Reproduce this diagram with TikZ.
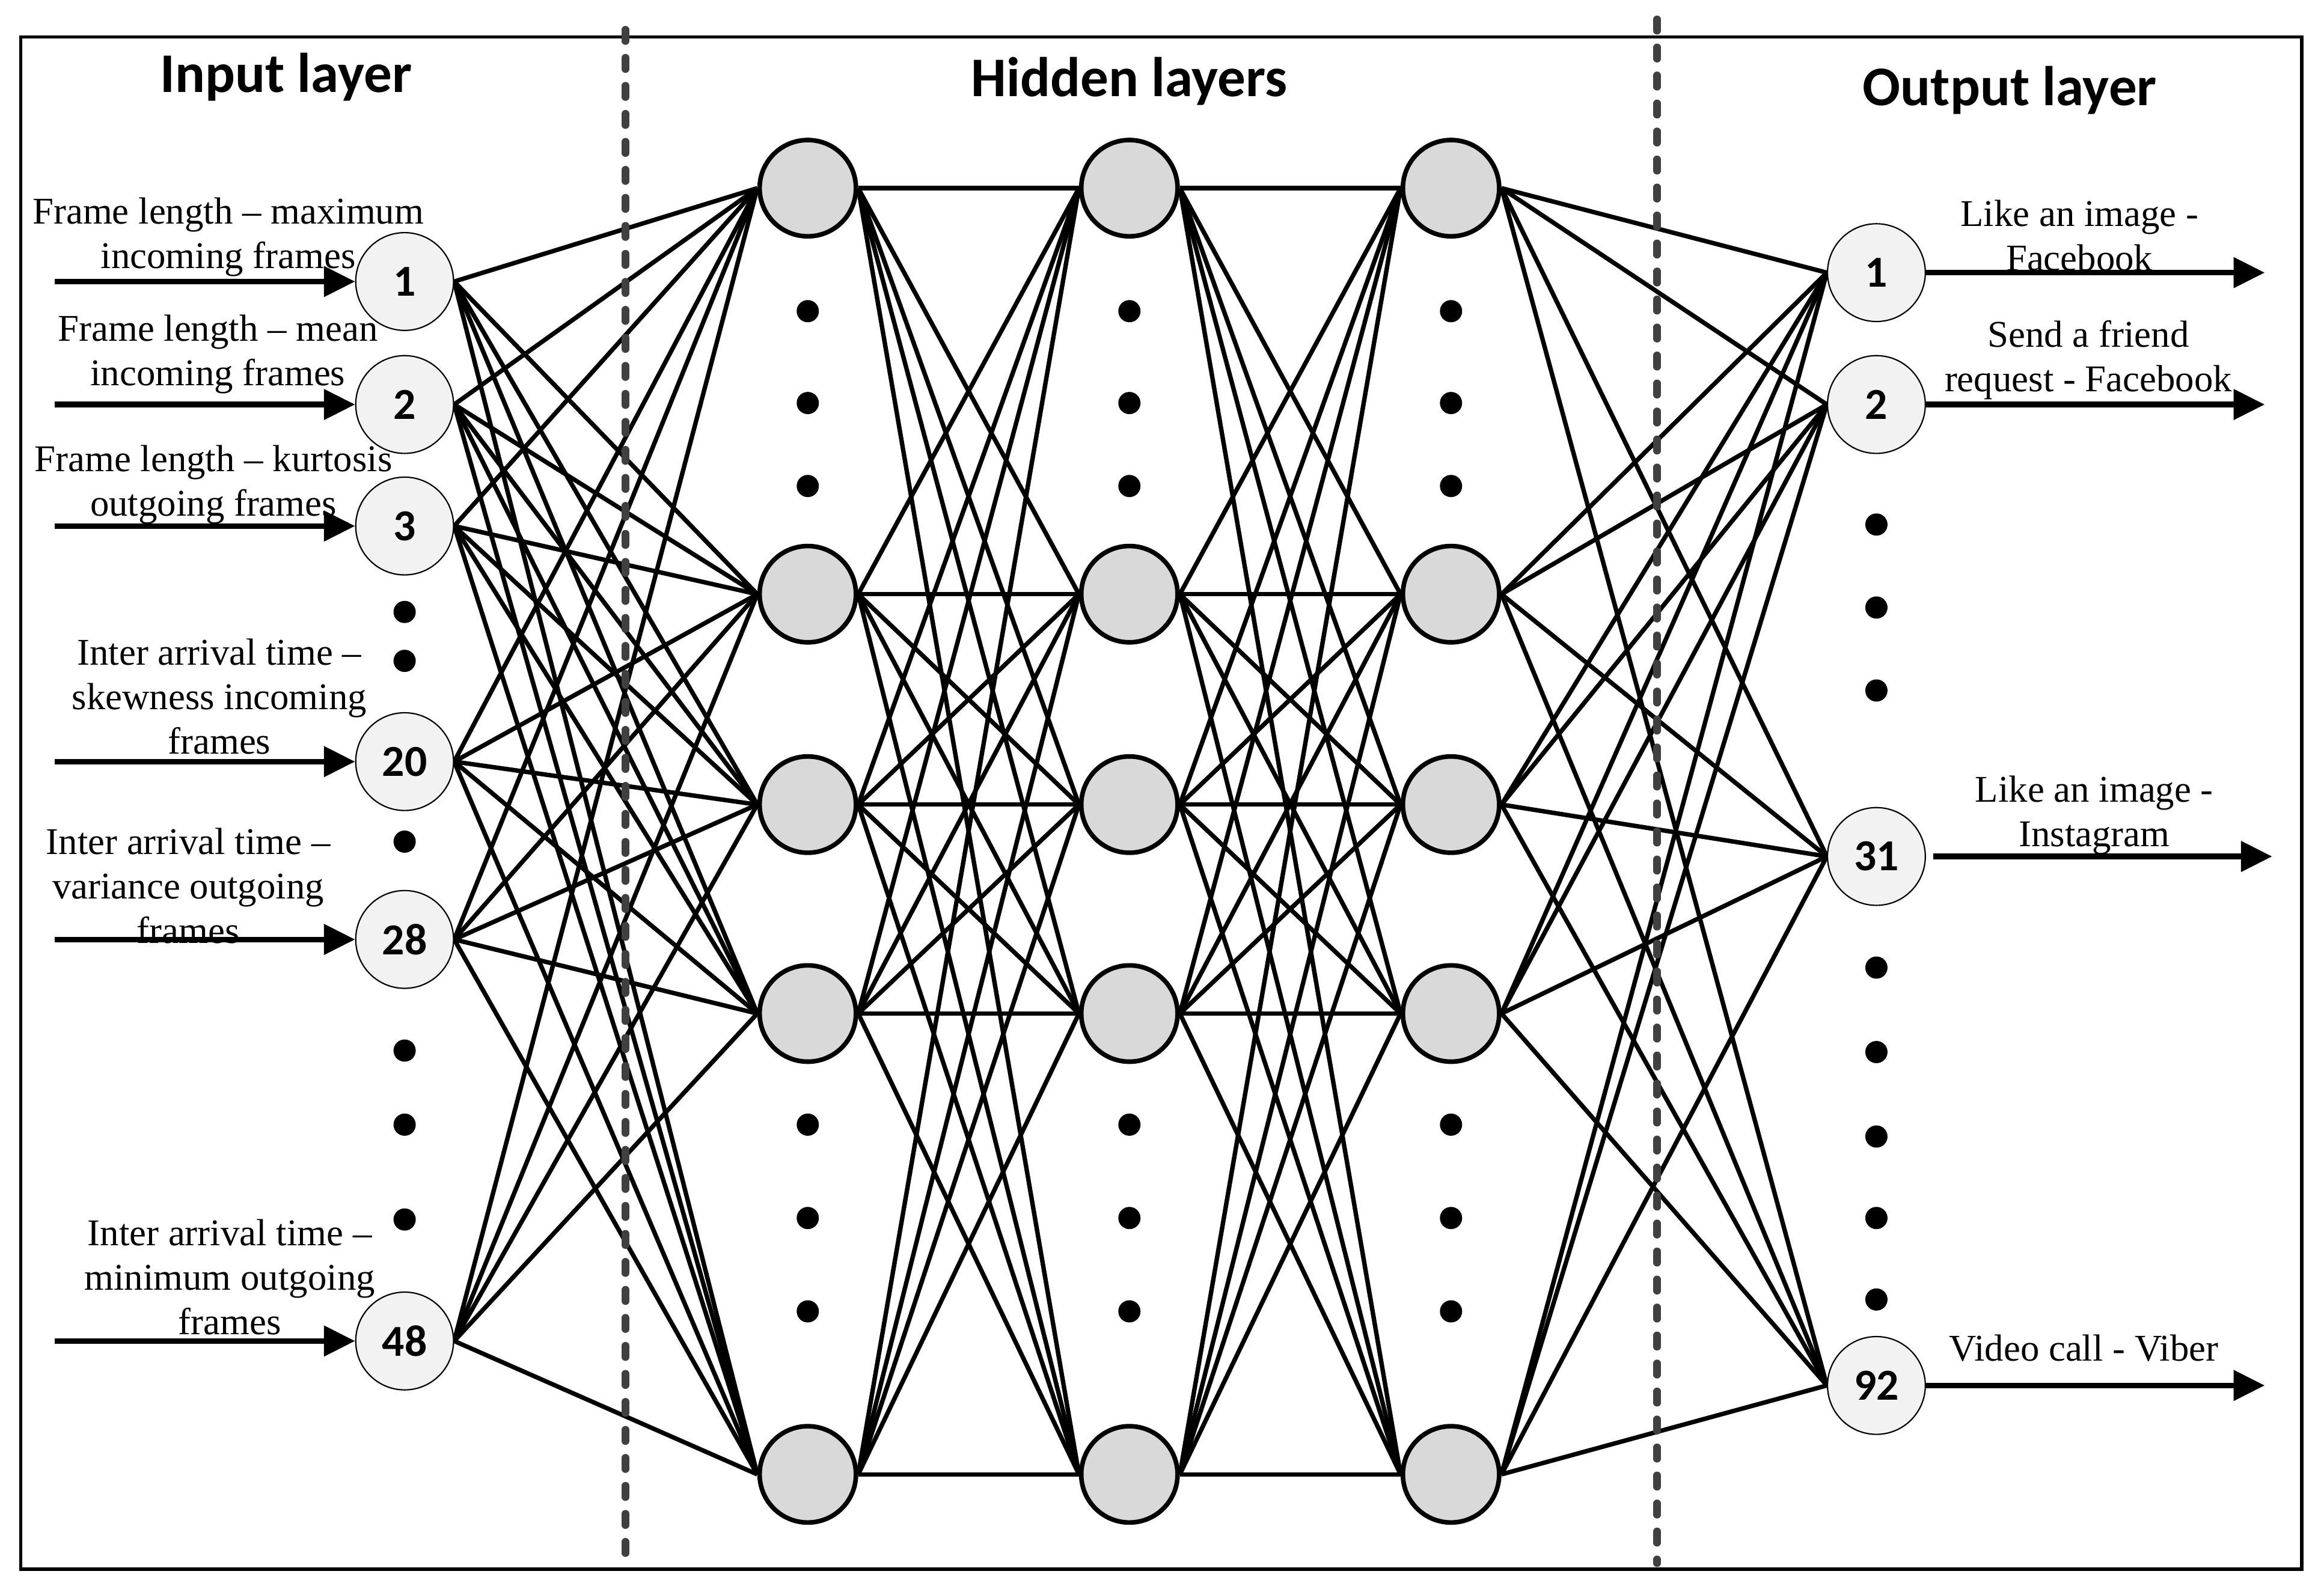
\documentclass[tikz,border=0pt]{standalone}
\usepackage{fontspec}
\setmainfont{Liberation Serif}
\newfontfamily\calb{Carlito}
\usetikzlibrary{arrows.meta,backgrounds}
\definecolor{infill}{RGB}{242,242,242}
\definecolor{hidfill}{RGB}{217,217,217}
\definecolor{sepgray}{RGB}{64,64,64}
\begin{document}
\begin{tikzpicture}[x=0.02cm,y=-0.02cm,
  inode/.style={circle, draw, line width=0.5pt, fill=infill, minimum size=1.32cm, inner sep=0pt,
    font=\calb\bfseries\fontsize{17}{17}\selectfont},
  hnode/.style={circle, draw, line width=0.062cm, fill=hidfill, minimum size=1.3cm, inner sep=0pt},
  link/.style={line width=0.06cm},
  arr/.style={line width=0.075cm, -{Triangle[length=0.42cm,width=0.4cm]}},
  dotn/.style={circle, fill=black, inner sep=0pt, minimum size=0.3cm},
  lbl/.style={align=center, inner sep=0pt, font=\fontsize{14.5}{17.1}\selectfont},
  ttl/.style={inner sep=0pt, font=\calb\bfseries\fontsize{21.5}{24}\selectfont},
  sepline/.style={line width=0.1cm, draw=sepgray, dash pattern=on 0.156cm off 0.222cm, line cap=round}
]
\useasboundingbox (0,0) rectangle (1568,1070);

% titles
\node[ttl] (tin) at (193,52) {Input layer};
\node[ttl] (thid) at (762,55) {Hidden layers};
\node[ttl] (tout) at (1356,61) {Output layer};

% input nodes
\node[inode] (i1) at (273,190) {1};
\node[inode] (i2) at (273,273) {2};
\node[inode] (i3) at (273,355) {3};
\node[inode] (i20) at (273,514) {20};
\node[inode] (i28) at (273,634) {28};
\node[inode] (i48) at (273,905) {48};

% input dots
\foreach \y [count=\k] in {413,446,568,709,759,823}
  \node[dotn] (idot\k) at (273,\y) {};

% hidden nodes
\foreach \L/\x in {a/545,b/762,c/979}{
  \foreach \y [count=\r] in {127,401,543,684,995}
    \node[hnode] (h\L\r) at (\x,\y) {};
  \foreach \y [count=\k] in {210,272,328,759,822,885}
    \node[dotn] (hdot\L\k) at (\x,\y) {};
}

% output nodes
\node[inode] (o1) at (1266,184) {1};
\node[inode] (o2) at (1266,273) {2};
\node[inode] (o31) at (1266,578) {31};
\node[inode] (o92) at (1266,935) {92};
\foreach \y [count=\k] in {354,410,466,653,710,767,822,877}
  \node[dotn] (odot\k) at (1266,\y) {};

% connections
\begin{scope}[on background layer]
  \draw[line width=0.046cm] (14,25) rectangle (1553,1059);
  \foreach \i in {1,2,3,20,28,48}
    \foreach \r in {1,...,5}
      \draw[link] (i\i.east) -- (ha\r.west);
  \foreach \p in {1,...,5}
    \foreach \r in {1,...,5}{
      \draw[link] (ha\p.east) -- (hb\r.west);
      \draw[link] (hb\p.east) -- (hc\r.west);
    }
  \foreach \p in {1,...,5}
    \foreach \o in {1,2,31,92}
      \draw[link] (hc\p.east) -- (o\o.west);
\end{scope}

% separators
\coordinate (s1t) at (422,20);
\coordinate (s1b) at (422,1059);
\coordinate (s2t) at (1118,13);
\coordinate (s2b) at (1118,1055);
\draw[sepline] (s1t) -- (s1b);
\draw[sepline] (s2t) -- (s2b);

% input arrows
\foreach \i in {1,2,3,20,28,48}{
  \coordinate (ai\i) at (37,0 |- i\i.west);
  \draw[arr] (ai\i) -- (i\i.west);
}

% output arrows
\coordinate (bo1) at (1528,184);
\coordinate (bo2) at (1528,273);
\coordinate (bo31) at (1533,578);
\coordinate (bo92) at (1528,935);
\draw[arr] (o1.east) -- (bo1);
\draw[arr] (o2.east) -- (bo2);
\draw[arr, shorten <=0.1cm] (o31.east) -- (bo31);
\draw[arr] (o92.east) -- (bo92);

% input labels
\node[lbl] (li1) at (154,160) {Frame length – maximum\\incoming frames};
\node[lbl] (li2) at (147,239) {Frame length – mean\\incoming frames};
\node[lbl] (li3) at (144,327) {Frame length – kurtosis\\outgoing frames};
\node[lbl] (li20) at (148,470) {Inter arrival time –\\skewness incoming\\frames};
\node[lbl] (li28) at (127,598) {Inter arrival time –\\variance outgoing\\frames};
\node[lbl] (li48) at (155,862) {Inter arrival time –\\minimum outgoing\\frames};

% output labels
\node[lbl] (lo1) at (1403,159) {Like an image -\\Facebook};
\node[lbl] (lo2) at (1409,243) {Send a friend\\request - Facebook};
\node[lbl] (lo31) at (1413,550) {Like an image -\\Instagram};
\node[lbl] (lo92) at (1406,910) {Video call - Viber};
\end{tikzpicture}
\end{document}
